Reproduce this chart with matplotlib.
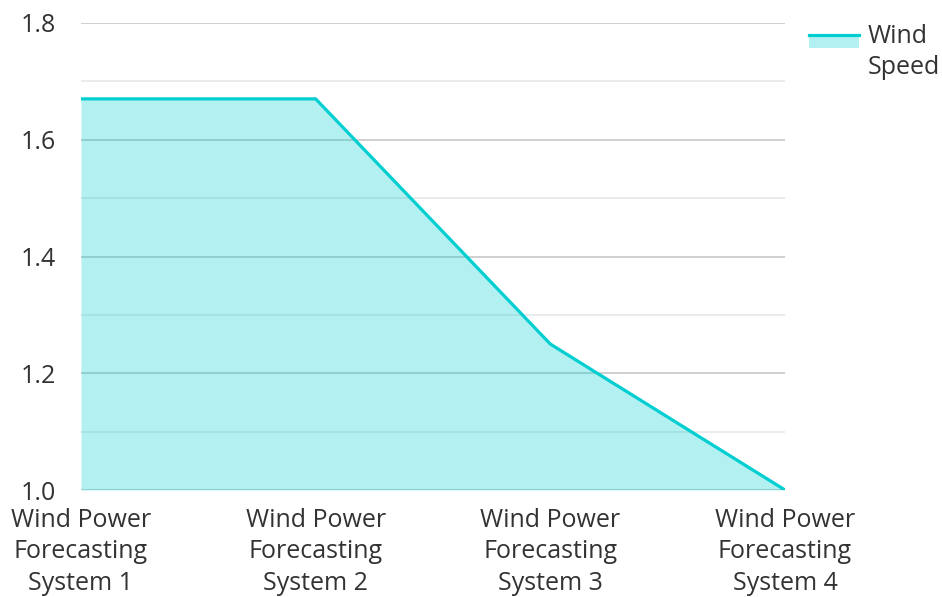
import matplotlib
matplotlib.use('Agg')
import matplotlib.pyplot as plt
from matplotlib.patches import Rectangle
from matplotlib.lines import Line2D

plt.rcParams['font.family'] = ['Open Sans', 'DejaVu Sans']

categories = ["Wind Power\nForecasting\nSystem 1", "Wind Power\nForecasting\nSystem 2",
              "Wind Power\nForecasting\nSystem 3", "Wind Power\nForecasting\nSystem 4"]
wind_speed = [1.67, 1.67, 1.25, 1.0]
yticks = [1.0, 1.2, 1.4, 1.6, 1.8]
minor_ticks = [1.1, 1.3, 1.5, 1.7]

line_color = '#00CED1'
text_color = '#333333'
W, H = 942, 597

fig = plt.figure(figsize=(W / 100, H / 100), dpi=100)
ax = fig.add_axes([81 / W, 1 - 490 / H, (785 - 81) / W, (490 - 23) / H])

x = list(range(len(categories)))
for t in yticks:
    ax.axhline(t, color='#c8c8c8', lw=1.2, zorder=1)
for t in minor_ticks:
    ax.axhline(t, color='#e8e8e8', lw=1.2, zorder=1)

ax.fill_between(x, 1.0, wind_speed, color=line_color, alpha=0.3, lw=0, zorder=2)
ax.plot(x, wind_speed, color=line_color, lw=2.3, zorder=3)

ax.set_xlim(0, 3)
ax.set_ylim(1.0, 1.8)
ax.set_yticks(yticks)
ax.set_yticklabels([f"{t:.1f}" for t in yticks])
ax.set_xticks(x)
ax.set_xticklabels(categories, linespacing=1.33)
ax.tick_params(axis='both', length=0, labelsize=18, labelcolor=text_color)
ax.tick_params(axis='y', pad=18)
ax.tick_params(axis='x', pad=13)
for s in ax.spines.values():
    s.set_visible(False)

# legend drawn by hand: patch with line on top, two-line label
fig.add_artist(Rectangle((809 / W, 1 - 48 / H), 50 / W, 12 / H, transform=fig.transFigure,
                         facecolor=line_color, alpha=0.3, lw=0))
fig.add_artist(Line2D([809 / W, 859 / W], [1 - 35 / H, 1 - 35 / H], transform=fig.transFigure,
                      color=line_color, lw=2.3))
fig.text(868 / W, 1 - 24 / H, "Wind\nSpeed", ha='left', va='top', fontsize=18,
         color=text_color, linespacing=1.33)

fig.savefig('out.png', dpi=100)
